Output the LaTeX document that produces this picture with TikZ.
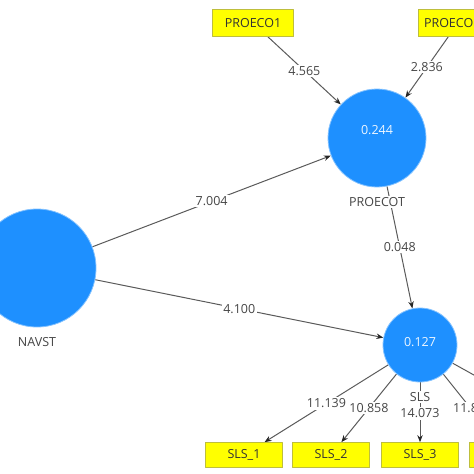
\documentclass[tikz,border=0pt]{standalone}
\usepackage{fontspec}
\setmainfont{Open Sans}
\usetikzlibrary{arrows.meta,positioning,backgrounds}
\definecolor{lvblue}{RGB}{30,144,255}
\definecolor{indyellow}{RGB}{255,255,0}
\definecolor{indedge}{RGB}{190,190,60}
\definecolor{linkgray}{RGB}{90,90,90}
\definecolor{txtgray}{RGB}{70,70,70}

\begin{document}
\begin{tikzpicture}[x=1pt, y=-1pt, line join=round,
  latent/.style={circle, fill=lvblue, draw=lvblue!55!white, line width=0.8pt, inner sep=0pt},
  indbox/.style={rectangle, fill=indyellow, draw=indedge, line width=0.7pt, minimum width=77pt,
    minimum height=25pt, inner sep=2pt, text=black!80, font=\fontsize{12.5}{14}\selectfont},
  link/.style={draw=linkgray, line width=1pt, -{Stealth[length=7pt,width=5.5pt,color=black!85]}},
  coef/.style={fill=white, text=txtgray, inner sep=1.5pt, font=\fontsize{12.5}{14}\selectfont},
  cname/.style={fill=white, text=txtgray, inner sep=1.5pt, font=\fontsize{12.5}{14}\selectfont},
  rsq/.style={text=white!92!lvblue, font=\fontsize{12.5}{14}\selectfont}]
\useasboundingbox (0,0) rectangle (474,474);
\clip (0,0) rectangle (474,474);
\node[latent, minimum size=118pt, label={[cname, label distance=8pt]below:NAVST}] (navst) at (37,268) {};
\node[latent, minimum size=98pt, label={[cname, label distance=8pt]below:PROECOT},
  label={[rsq, yshift=8pt]center:0.244}] (proecot) at (377,138) {};
\node[latent, minimum size=74pt, label={[cname, label distance=8pt]below:SLS},
  label={[rsq, yshift=3pt]center:0.127}] (sls) at (420,345) {};
\node[indbox, minimum width=81pt, minimum height=27pt] (proeco1) at (253,23) {PROECO1};
\node[indbox, minimum height=27pt, text width=68pt, inner xsep=6pt, align=left] (proeco2) at (458,23) {PROECO};
\node[indbox] (sls1) at (244,455) {SLS\_1};
\node[indbox] (sls2) at (331,455) {SLS\_2};
\node[indbox] (sls3) at (420,455) {SLS\_3};
\node[indbox] (sls4) at (508,455) {};
\coordinate (sls5) at (596,443);
\begin{scope}[on background layer]
\draw[link] (proeco1) -- node[coef] {4.565} (proecot);
\draw[link] (proeco2) -- node[coef] {2.836} (proecot);
\draw[link] (navst) -- node[coef] {7.004} (proecot);
\draw[link] (navst) -- node[coef] {4.100} (sls);
\draw[link] (proecot) -- node[coef] {0.048} (sls);
\draw[link] (sls) -- node[coef] {11.139} (sls1);
\draw[link] (sls) -- node[coef] {10.858} (sls2);
\draw[link] (sls) -- node[coef, pos=0.52] {14.073} (sls3);
\draw[link] (sls) -- node[coef, xshift=-5pt] {11.8} (sls4);
\draw[link] (sls) -- (sls5);
\end{scope}
\end{tikzpicture}
\end{document}
